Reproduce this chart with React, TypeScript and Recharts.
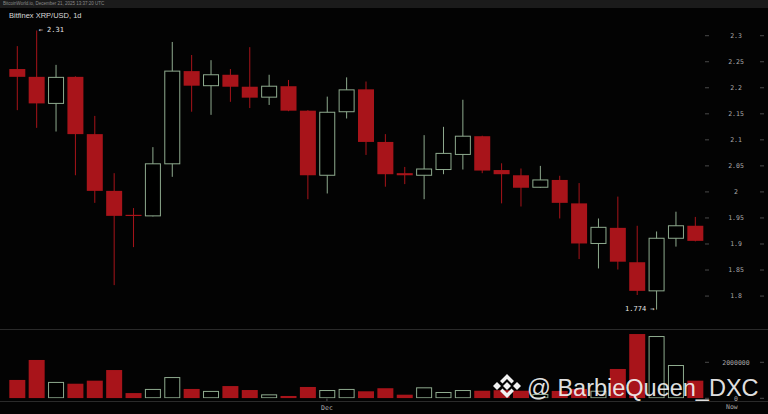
import React from "react";
import { ComposedChart, BarChart, Bar, XAxis, YAxis } from "recharts";

// daily candles, Nov 15 -> Dec 20 (Bitfinex XRP/USD)
const dates = [
  "Nov 15", "Nov 16", "Nov 17", "Nov 18", "Nov 19", "Nov 20", "Nov 21", "Nov 22", "Nov 23",
  "Nov 24", "Nov 25", "Nov 26", "Nov 27", "Nov 28", "Nov 29", "Nov 30", "Dec 1", "Dec 2",
  "Dec 3", "Dec 4", "Dec 5", "Dec 6", "Dec 7", "Dec 8", "Dec 9", "Dec 10", "Dec 11",
  "Dec 12", "Dec 13", "Dec 14", "Dec 15", "Dec 16", "Dec 17", "Dec 18", "Dec 19", "Dec 20",
];
const opens = [
  2.236, 2.221, 2.17, 2.221, 2.111, 2.002, 1.956, 1.954, 2.054, 2.232, 2.204, 2.225,
  2.202, 2.182, 2.203, 2.156, 2.032, 2.154, 2.197, 2.096, 2.036, 2.032, 2.043, 2.072,
  2.107, 2.042, 2.032, 2.009, 2.023, 1.978, 1.901, 1.931, 1.865, 1.81, 1.911, 1.935,
];
const highs = [
  2.28, 2.31, 2.244, 2.222, 2.146, 2.036, 1.969, 2.086, 2.288, 2.263, 2.253, 2.236,
  2.278, 2.225, 2.215, 2.157, 2.183, 2.22, 2.212, 2.111, 2.048, 2.109, 2.125, 2.177,
  2.108, 2.055, 2.045, 2.05, 2.031, 2.017, 1.949, 1.991, 1.935, 1.924, 1.962, 1.952,
];
const lows = [
  2.157, 2.123, 2.116, 2.032, 1.979, 1.821, 1.894, 1.953, 2.029, 2.154, 2.148, 2.173,
  2.161, 2.167, 2.155, 1.986, 1.997, 2.141, 2.071, 2.01, 2.015, 1.986, 2.034, 2.043,
  2.036, 1.978, 1.972, 2.008, 1.949, 1.871, 1.853, 1.851, 1.802, 1.774, 1.895, 1.905,
];
const closes = [
  2.221, 2.17, 2.22, 2.111, 2.002, 1.954, 1.954, 2.054, 2.232, 2.204, 2.225, 2.202,
  2.181, 2.203, 2.156, 2.032, 2.153, 2.196, 2.096, 2.034, 2.032, 2.044, 2.074, 2.107,
  2.041, 2.034, 2.008, 2.023, 1.979, 1.901, 1.932, 1.866, 1.81, 1.911, 1.935, 1.906,
];
const volumes = [
  1020000, 2130000, 910000, 810000, 980000, 1570000, 290000, 520000, 1180000, 520000,
  410000, 680000, 460000, 220000, 130000, 630000, 460000, 520000, 390000, 560000,
  200000, 610000, 350000, 460000, 420000, 450000, 420000, 240000, 410000, 520000,
  420000, 1630000, 3570000, 3460000, 1850000, 980000,
];
const priceTicks = [1.8, 1.85, 1.9, 1.95, 2, 2.05, 2.1, 2.15, 2.2, 2.25, 2.3];
const volumeTicks = [0, 2000000];

const rows = dates.map((date, i) => ({
  date,
  open: opens[i],
  high: highs[i],
  low: lows[i],
  close: closes[i],
  volume: volumes[i],
}));

const hiIdx = highs.indexOf(Math.max(...highs));
const loIdx = lows.indexOf(Math.min(...lows));

const RED = "#a8141a";
const GREEN = "#8fab8f";
const MONO = "'DejaVu Sans Mono', monospace";

function Candle(props: any) {
  const { x, y, width, height, payload, index } = props;
  const top = Math.min(y, y + height);
  const h = Math.abs(height);
  const range = payload.high - payload.low || 1;
  const py = (v: number) => top + ((payload.high - v) / range) * h;
  const up = payload.close >= payload.open;
  const color = up ? GREEN : RED;
  const cx = x + width / 2;
  const bTop = py(Math.max(payload.open, payload.close));
  const bH = Math.max(1.2, py(Math.min(payload.open, payload.close)) - bTop);
  return (
    <g>
      <line x1={cx} x2={cx} y1={top} y2={top + h} stroke={color} strokeWidth={1} />
      {up ? (
        <rect x={x + 0.5} y={bTop} width={width - 1} height={bH} fill="#000" stroke={color} strokeWidth={1} />
      ) : (
        <rect x={x} y={bTop} width={width} height={bH} fill={color} />
      )}
      {index === hiIdx && (
        <text x={cx + 2} y={top + 2} fontSize={7} fill="#e6e6e6" fontFamily={MONO}>
          {"← " + payload.high}
        </text>
      )}
      {index === loIdx && (
        <text x={cx - 2} y={top + h + 1} fontSize={7} fill="#e6e6e6" fontFamily={MONO} textAnchor="end">
          {payload.low + " →"}
        </text>
      )}
    </g>
  );
}

function VolumeBar(props: any) {
  const { x, y, width, height, payload } = props;
  const up = payload.close >= payload.open;
  if (up) {
    return <rect x={x + 0.5} y={y + 0.5} width={width - 1} height={Math.max(0, height - 1)} fill="#000" stroke={GREEN} strokeWidth={1} />;
  }
  return <rect x={x} y={y} width={width} height={height} fill={RED} />;
}

function AxisTick(props: any) {
  const { y, payload } = props;
  return (
    <g>
      <line x1={705} x2={709} y1={y} y2={y} stroke="#4a4a4a" />
      <line x1={760} x2={764} y1={y} y2={y} stroke="#4a4a4a" />
      <text x={736} y={y + 2.3} fontSize={6.5} fill="#a8a8a8" fontFamily={MONO} textAnchor="middle">
        {payload.value}
      </text>
    </g>
  );
}

function DateTick(props: any) {
  const { x, payload } = props;
  if (payload.value !== "Dec 1") return null;
  return (
    <g>
      <line x1={x} x2={x} y1={68.5} y2={71} stroke="#555" />
      <text x={x} y={80} fontSize={6.5} fill="#b0b0b0" fontFamily={MONO} textAnchor="middle">
        Dec
      </text>
    </g>
  );
}

export default function App() {
  return (
    <div style={{ position: "fixed", left: 0, top: 0, width: 768, height: 414, background: "#030303", overflow: "hidden" }}>
      <div style={{ position: "absolute", left: 0, top: 0, width: 768, height: 8, background: "#1b1b1b" }} />
      <div style={{ position: "absolute", left: 3, top: 1, fontSize: 4.5, lineHeight: "6px", color: "#8a8a8a", fontFamily: "'Liberation Sans', Arial, sans-serif", whiteSpace: "nowrap" }}>
        BitcoinWorld.io, December 21, 2025 13:37:20 UTC
      </div>
      <div style={{ position: "absolute", left: 9, top: 11, fontSize: 7.5, lineHeight: "10px", color: "#d8d8d8", fontFamily: "'Liberation Sans', Arial, sans-serif", whiteSpace: "nowrap" }}>
        Bitfinex XRP/USD, 1d
      </div>

      <ComposedChart
        width={768}
        height={330}
        data={rows}
        margin={{ top: 9.67, right: 0, bottom: 7.9, left: 7.3 }}
        style={{ position: "absolute", left: 0, top: 0 }}
      >
        <XAxis dataKey="date" hide height={0} />
        <YAxis
          orientation="right"
          domain={[1.75, 2.35]}
          allowDataOverflow
          ticks={priceTicks}
          width={63.3}
          axisLine={false}
          tickLine={false}
          tick={<AxisTick />}
          interval={0}
        />
        <Bar dataKey={(d: any) => [d.low, d.high]} barSize={16} shape={<Candle />} isAnimationActive={false} />
      </ComposedChart>

      <div style={{ position: "absolute", left: 0, top: 329, width: 768, height: 1, background: "#2a2a2a" }} />

      <BarChart
        width={768}
        height={84}
        data={rows}
        margin={{ top: 1.7, right: 0, bottom: 0, left: 7.3 }}
        style={{ position: "absolute", left: 0, top: 330 }}
      >
        <XAxis dataKey="date" height={15.7} axisLine={false} tickLine={false} interval={0} tick={<DateTick />} />
        <YAxis
          orientation="right"
          domain={[0, 3700000]}
          allowDataOverflow
          ticks={volumeTicks}
          width={63.3}
          axisLine={false}
          tickLine={false}
          tick={<AxisTick />}
          interval={0}
        />
        <Bar dataKey="volume" barSize={16} shape={<VolumeBar />} isAnimationActive={false} />
      </BarChart>

      <div style={{ position: "absolute", left: 0, top: 401, width: 768, height: 1, background: "#2a2a2a" }} />
      <div style={{ position: "absolute", left: 726, top: 403, fontSize: 6.5, lineHeight: "9px", color: "#a8a8a8", fontFamily: MONO }}>
        Now
      </div>

      <svg width={30} height={26} viewBox="0 0 30 26" style={{ position: "absolute", left: 492, top: 373 }}>
        <g fill="#f2f2f2">
          <polygon points="15,9 19,13 15,17 11,13" />
          <polygon points="5,9 9,13 5,17 1,13" />
          <polygon points="25,9 29,13 25,17 21,13" />
          <polygon points="15,1 22,8 19.5,10.5 15,6 10.5,10.5 8,8" />
          <polygon points="15,25 22,18 19.5,15.5 15,20 10.5,15.5 8,18" />
        </g>
      </svg>
      <div style={{ position: "absolute", left: 527, top: 373, fontSize: 23.5, lineHeight: "30px", color: "rgba(245,245,245,0.93)", fontFamily: "'Liberation Sans', Arial, sans-serif", whiteSpace: "nowrap" }}>
        @ BarbieQueen_DXC
      </div>
    </div>
  );
}
